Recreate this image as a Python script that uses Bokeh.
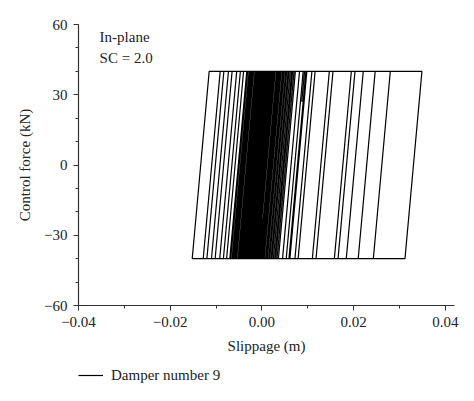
from bokeh.plotting import figure
from bokeh.layouts import column
from bokeh.models import (Range1d, SingleIntervalTicker, CustomJSTickFormatter,
                          Legend, LegendItem, Label)
from bokeh.embed import file_html
from bokeh.resources import INLINE

# ---- data ----
slip_force_kN = 40.0          # friction (slip) force level
elastic_span_m = 0.0037       # x-shift of an elastic branch from -40 kN to +40 kN
start_force_kN = 0.0

# each elastic branch: x position at -40 kN (anchor) and force reached at its end, in time order
branch_anchor_m = [
    -0.0019, 0.0010, -0.0030, -0.0005, -0.0045, 0.0002, -0.0026, 0.0017, -0.0010, 0.0025,
    -0.0021, 0.0005, -0.0050, -0.0015, -0.0060, -0.0035, -0.0070, -0.0041, -0.0055, -0.0008,
    -0.0038, 0.0012, -0.0018, 0.0036, -0.0006, -0.0006, -0.0013, 0.0053, -0.0065, -0.0028,
    -0.0077, -0.0048, -0.0084, -0.0022, -0.0092, -0.0058, -0.0102, -0.0043, -0.0110, -0.0012,
    -0.0120, 0.0028, -0.0128, 0.0056, 0.0056, 0.0061, -0.0152, 0.0312, 0.0210, 0.0243,
    0.0158, 0.0184, 0.0110, 0.0166, 0.0079, 0.0118, 0.0045, 0.0072, -0.0020, 0.0059,
    0.0059, 0.0059, -0.0033, 0.0030, -0.0062, 0.0008, -0.0047, -0.0003, -0.0040, 0.0020,
    -0.0024, 0.0000, -0.0016, 0.0004, -0.0036, -0.0012, -0.0052, -0.0025, -0.0068, -0.0032,
    -0.0044, 0.0015, -0.0029, -0.0002, -0.0057, -0.0019, -0.0063, 0.0022, -0.0011, 0.0033,
    -0.0034, -0.0001,
]
branch_end_kN = [
    40, -40, 40, -40, 40, -40, 40, -40, 40, -40,
    40, -40, 40, -40, 40, -40, 40, -40, 40, -40,
    40, -40, 40, -40, -23, -40, 40, -40, 40, -40,
    40, -40, 40, -40, 40, -40, 40, -40, 40, -40,
    40, -40, 40, 27, 40, -40, 40, -40, 40, -40,
    40, -40, 40, -40, 40, -40, 40, -40, 40, -40,
    -20, -40, 40, -40, 40, -40, 40, -40, 40, -40,
    40, -40, 40, -40, 40, -40, 40, -40, 40, -40,
    40, -40, 40, -40, 40, -40, 40, -40, 40, -40,
    40, -10,
]

x_tick_step = 0.02
y_tick_step = 30
series_label = "Damper number 9"
note_lines = ["In-plane", "SC = 2.0"]
note_y_kN = [54.7, 45.7]
note_x_m = -0.0354

# ---- build the force–slippage path through the elastic/slip model ----
xs, ys = [], []
prev_f = start_force_kN
for a, f_end in zip(branch_anchor_m, branch_end_kN):
    for f in (prev_f, f_end):
        xs.append(a + (f + slip_force_kN) / (2 * slip_force_kN) * elastic_span_m)
        ys.append(f)
    prev_f = f_end

FONT = "Liberation Serif"
INK = "#222222"

p = figure(width=466, height=360,
           x_range=Range1d(-0.04, 0.042), y_range=Range1d(-60, 60),
           output_backend="svg", toolbar_location=None,
           min_border_left=78, min_border_right=12, min_border_top=24, min_border_bottom=55)

p.grid.visible = False
p.outline_line_color = None
p.background_fill_color = "white"
p.border_fill_color = "white"

p.line(xs, ys, line_color="black", line_width=1.2)

fmt_x = CustomJSTickFormatter(code="""
    var t = Math.abs(tick) < 1e-9 ? 0 : tick;
    return t.toFixed(2).replace('-', '\\u2212');
""")
fmt_y = CustomJSTickFormatter(code="""
    var t = Math.abs(tick) < 1e-9 ? 0 : tick;
    return t.toFixed(0).replace('-', '\\u2212');
""")

p.xaxis.ticker = SingleIntervalTicker(interval=x_tick_step, num_minor_ticks=2)
p.yaxis.ticker = SingleIntervalTicker(interval=y_tick_step, num_minor_ticks=3)
p.xaxis.formatter = fmt_x
p.yaxis.formatter = fmt_y
p.xaxis.axis_label = "Slippage (m)"
p.yaxis.axis_label = "Control force (kN)"

for ax in (p.xaxis, p.yaxis):
    ax.axis_line_color = "#333333"
    ax.axis_line_width = 1.2
    ax.major_tick_line_color = "#333333"
    ax.minor_tick_line_color = "#333333"
    ax.major_tick_out = 5
    ax.major_tick_in = 0
    ax.minor_tick_out = 3
    ax.minor_tick_in = 0
    ax.major_label_text_font = FONT
    ax.major_label_text_font_size = "15px"
    ax.major_label_text_color = INK
    ax.axis_label_text_font = FONT
    ax.axis_label_text_font_size = "15px"
    ax.axis_label_text_font_style = "normal"
    ax.axis_label_text_color = INK
    ax.major_label_standoff = 6
    ax.axis_label_standoff = 8

for txt, yv in zip(note_lines, note_y_kN):
    p.add_layout(Label(x=note_x_m, y=yv, text=txt, text_font=FONT,
                       text_font_size="15px", text_baseline="middle",
                       text_color=INK))

# ---- legend strip below the chart (key line drawn by the legend itself) ----
lg = figure(width=466, height=36, x_range=Range1d(0, 1), y_range=Range1d(0, 1),
            x_axis_location=None, y_axis_location=None,
            output_backend="svg", toolbar_location=None,
            min_border_left=0, min_border_right=0, min_border_top=0, min_border_bottom=0)
lg.grid.visible = False
lg.outline_line_color = None
lg.background_fill_color = "white"
lg.border_fill_color = "white"
key = lg.line(x=[-2, -1], y=[-2, -2], line_color="black", line_width=1.2)
legend = Legend(items=[LegendItem(label=series_label, renderers=[key])],
                location=(0, 11), orientation="horizontal",
                border_line_color=None, background_fill_alpha=0,
                padding=0, margin=0, spacing=0,
                glyph_width=25, label_standoff=8,
                label_text_font=FONT, label_text_font_size="15px",
                label_text_color=INK)
lg.add_layout(legend, "center")

layout = column(p, lg, spacing=0)
open("out.html", "w").write(file_html(layout, INLINE))
